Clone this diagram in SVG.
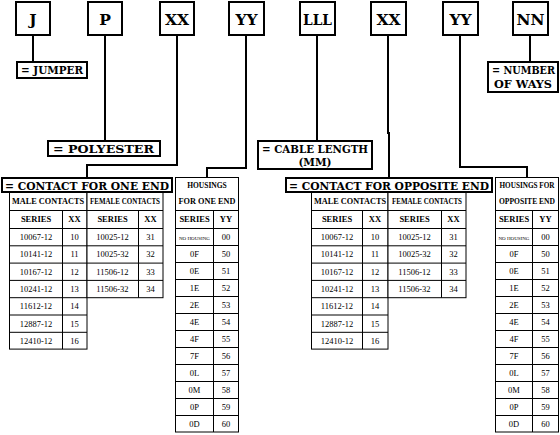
<svg xmlns="http://www.w3.org/2000/svg" width="560" height="435" viewBox="0 0 560 435">
<style>
.box{fill:#fff;stroke:#000;stroke-width:2}
.tb{fill:#fff;stroke:#000;stroke-width:1}
.ln{fill:none;stroke:#000;stroke-width:1}
.conn{fill:none;stroke:#000;stroke-width:2}
text{font-family:"Liberation Serif","DejaVu Serif",serif;fill:#000}
.code{font-family:"DejaVu Serif","Liberation Serif",serif;font-size:15.5px;font-weight:bold;text-anchor:middle}
.lab{font-family:"DejaVu Serif","Liberation Serif",serif;font-size:10.5px;font-weight:bold}
.big{font-family:"DejaVu Serif","Liberation Serif",serif;font-size:11.5px;font-weight:bold}
.hd{font-size:7.5px;font-weight:bold;text-anchor:middle}
.c{font-size:8.5px;text-anchor:middle}
.cb{font-size:8.5px;font-weight:bold;text-anchor:middle}
.tiny{font-size:5px;text-anchor:middle}
</style>
<rect width="560" height="435" fill="#fff"/>
<g id="connectors">
<path class="conn" d="M33 36V62"/>
<path class="conn" d="M105 36V141"/>
<path class="conn" d="M177 36V165H87V178"/>
<path class="conn" d="M246 36V168H207V177"/>
<path class="conn" d="M317 36V141"/>
<path class="conn" d="M388 36V133H389V178"/>
<path class="conn" d="M460 36V167H527V177"/>
<path class="conn" d="M530 36V62"/>
</g>
<g id="code-J"><rect class="box" x="16" y="2" width="34" height="33"/><text class="code" x="33" y="24.5">J</text></g>
<g id="code-P"><rect class="box" x="88" y="2" width="34" height="33"/><text class="code" x="105" y="24.5">P</text></g>
<g id="code-XX1"><rect class="box" x="160" y="2" width="34" height="33"/><text class="code" x="177" y="24.5">XX</text></g>
<g id="code-YY1"><rect class="box" x="229" y="2" width="35" height="33"/><text class="code" x="246.5" y="24.5">YY</text></g>
<g id="code-LLL"><rect class="box" x="300" y="2" width="35" height="33"/><text class="code" x="317.5" y="24.5" textLength="29" lengthAdjust="spacingAndGlyphs">LLL</text></g>
<g id="code-XX2"><rect class="box" x="371" y="2" width="35" height="33"/><text class="code" x="388.5" y="24.5">XX</text></g>
<g id="code-YY2"><rect class="box" x="443" y="2" width="35" height="33"/><text class="code" x="460.5" y="24.5">YY</text></g>
<g id="code-NN"><rect class="box" x="513" y="2" width="35" height="33"/><text class="code" x="530.5" y="24.5" textLength="28" lengthAdjust="spacingAndGlyphs">NN</text></g>

<g id="label-jumper"><rect class="box" x="17" y="62" width="70" height="16"/><text class="lab" x="21" y="74" textLength="62" lengthAdjust="spacingAndGlyphs">= JUMPER</text></g>
<g id="label-polyester"><rect class="box" x="48" y="141" width="112" height="15"/><text class="lab" x="53" y="153" textLength="101" lengthAdjust="spacingAndGlyphs">= POLYESTER</text></g>
<g id="label-cable"><rect class="box" x="258" y="141" width="114" height="28"/><text class="lab" x="262" y="153" textLength="106" lengthAdjust="spacingAndGlyphs">= CABLE LENGTH</text><text class="lab" x="315" y="166" text-anchor="middle">(MM)</text></g>
<g id="label-ways"><rect class="box" x="488" y="62" width="70" height="30"/><text class="lab" x="492" y="74" textLength="63" lengthAdjust="spacingAndGlyphs">= NUMBER</text><text class="lab" x="523" y="88" text-anchor="middle" textLength="58" lengthAdjust="spacingAndGlyphs">OF WAYS</text></g>
<g id="label-contact-one"><rect class="box" x="2" y="178" width="170" height="14" stroke-width="2.5"/><text class="big" x="5" y="189.5" textLength="164" lengthAdjust="spacingAndGlyphs">= CONTACT FOR ONE END</text></g>
<g id="label-contact-opp"><rect class="box" x="286" y="178" width="206" height="14" stroke-width="2.5"/><text class="big" x="289" y="189.5" textLength="200" lengthAdjust="spacingAndGlyphs">= CONTACT FOR OPPOSITE END</text></g>

<g id="table-male-one">
<rect class="tb" x="9.5" y="192.5" width="77.5" height="156.6"/>
<path class="ln" d="M9.5 210.5H87M9.5 228.5H87M9.5 245.8H87M9.5 263.1H87M9.5 280.4H87M9.5 297.7H87M9.5 315H87M9.5 332.3H87M62.5 210.5V349.1"/>
<text class="hd" x="48" y="204" textLength="72" lengthAdjust="spacingAndGlyphs">MALE CONTACTS</text>
<text class="cb" x="36" y="222">SERIES</text><text class="cb" x="74.5" y="222">XX</text>
<text class="c" x="36" y="240">10067-12</text><text class="c" x="74.5" y="240">10</text>
<text class="c" x="36" y="257.3">10141-12</text><text class="c" x="74.5" y="257.3">11</text>
<text class="c" x="36" y="274.6">10167-12</text><text class="c" x="74.5" y="274.6">12</text>
<text class="c" x="36" y="291.9">10241-12</text><text class="c" x="74.5" y="291.9">13</text>
<text class="c" x="36" y="309.2">11612-12</text><text class="c" x="74.5" y="309.2">14</text>
<text class="c" x="36" y="326.5">12887-12</text><text class="c" x="74.5" y="326.5">15</text>
<text class="c" x="36" y="343.8">12410-12</text><text class="c" x="74.5" y="343.8">16</text>
</g>
<g id="table-female-one">
<rect class="tb" x="87" y="192.5" width="76" height="105.2"/>
<path class="ln" d="M87 210.5H163M87 228.5H163M87 245.8H163M87 263.1H163M87 280.4H163M138.5 210.5V297.7"/>
<text class="hd" x="125" y="204" textLength="70" lengthAdjust="spacingAndGlyphs">FEMALE CONTACTS</text>
<text class="cb" x="112.5" y="222">SERIES</text><text class="cb" x="150.5" y="222">XX</text>
<text class="c" x="112.5" y="240">10025-12</text><text class="c" x="150.5" y="240">31</text>
<text class="c" x="112.5" y="257.3">10025-32</text><text class="c" x="150.5" y="257.3">32</text>
<text class="c" x="112.5" y="274.6">11506-12</text><text class="c" x="150.5" y="274.6">33</text>
<text class="c" x="112.5" y="291.9">11506-32</text><text class="c" x="150.5" y="291.9">34</text>
</g>
<g id="table-housing-one">
<rect class="tb" x="175.5" y="177.5" width="63" height="254.5"/>
<path class="ln" d="M175.5 210.5H238.5M175.5 228.5H238.5M175.5 245.5H238.5M175.5 262.5H238.5M175.5 279.5H238.5M175.5 296.5H238.5M175.5 313.5H238.5M175.5 330.5H238.5M175.5 347.5H238.5M175.5 364.5H238.5M175.5 381.5H238.5M175.5 398.5H238.5M175.5 415.5H238.5M213.5 210.5V432"/>
<text class="hd" x="207" y="188">HOUSINGS</text>
<text class="hd" x="207" y="204" textLength="57" lengthAdjust="spacingAndGlyphs">FOR ONE END</text>
<text class="cb" x="194.5" y="222">SERIES</text><text class="cb" x="226" y="222">YY</text>
<text class="tiny" x="194.5" y="239.5">NO HOUSING</text><text class="c" x="226" y="240">00</text>
<text class="c" x="194.5" y="257">0F</text><text class="c" x="226" y="257">50</text>
<text class="c" x="194.5" y="274">0E</text><text class="c" x="226" y="274">51</text>
<text class="c" x="194.5" y="291">1E</text><text class="c" x="226" y="291">52</text>
<text class="c" x="194.5" y="308">2E</text><text class="c" x="226" y="308">53</text>
<text class="c" x="194.5" y="325">4E</text><text class="c" x="226" y="325">54</text>
<text class="c" x="194.5" y="342">4F</text><text class="c" x="226" y="342">55</text>
<text class="c" x="194.5" y="359">7F</text><text class="c" x="226" y="359">56</text>
<text class="c" x="194.5" y="376">0L</text><text class="c" x="226" y="376">57</text>
<text class="c" x="194.5" y="393">0M</text><text class="c" x="226" y="393">58</text>
<text class="c" x="194.5" y="410">0P</text><text class="c" x="226" y="410">59</text>
<text class="c" x="194.5" y="427">0D</text><text class="c" x="226" y="427">60</text>
</g>

<g id="table-male-opp">
<rect class="tb" x="311.5" y="192.5" width="76.5" height="156.6"/>
<path class="ln" d="M311.5 210.5H388M311.5 228.5H388M311.5 245.8H388M311.5 263.1H388M311.5 280.4H388M311.5 297.7H388M311.5 315H388M311.5 332.3H388M362.5 210.5V349.1"/>
<text class="hd" x="350" y="204" textLength="72" lengthAdjust="spacingAndGlyphs">MALE CONTACTS</text>
<text class="cb" x="337" y="222">SERIES</text><text class="cb" x="375" y="222">XX</text>
<text class="c" x="337" y="240">10067-12</text><text class="c" x="375" y="240">10</text>
<text class="c" x="337" y="257.3">10141-12</text><text class="c" x="375" y="257.3">11</text>
<text class="c" x="337" y="274.6">10167-12</text><text class="c" x="375" y="274.6">12</text>
<text class="c" x="337" y="291.9">10241-12</text><text class="c" x="375" y="291.9">13</text>
<text class="c" x="337" y="309.2">11612-12</text><text class="c" x="375" y="309.2">14</text>
<text class="c" x="337" y="326.5">12887-12</text><text class="c" x="375" y="326.5">15</text>
<text class="c" x="337" y="343.8">12410-12</text><text class="c" x="375" y="343.8">16</text>
</g>
<g id="table-female-opp">
<rect class="tb" x="388" y="192.5" width="78" height="105.2"/>
<path class="ln" d="M388 210.5H466M388 228.5H466M388 245.8H466M388 263.1H466M388 280.4H466M441.5 210.5V297.7"/>
<text class="hd" x="427" y="204" textLength="70" lengthAdjust="spacingAndGlyphs">FEMALE CONTACTS</text>
<text class="cb" x="414.5" y="222">SERIES</text><text class="cb" x="453.5" y="222">XX</text>
<text class="c" x="414.5" y="240">10025-12</text><text class="c" x="453.5" y="240">31</text>
<text class="c" x="414.5" y="257.3">10025-32</text><text class="c" x="453.5" y="257.3">32</text>
<text class="c" x="414.5" y="274.6">11506-12</text><text class="c" x="453.5" y="274.6">33</text>
<text class="c" x="414.5" y="291.9">11506-32</text><text class="c" x="453.5" y="291.9">34</text>
</g>
<g id="table-housing-opp">
<rect class="tb" x="495.5" y="177.5" width="63" height="254.5"/>
<path class="ln" d="M495.5 210.5H558.5M495.5 228.5H558.5M495.5 245.5H558.5M495.5 262.5H558.5M495.5 279.5H558.5M495.5 296.5H558.5M495.5 313.5H558.5M495.5 330.5H558.5M495.5 347.5H558.5M495.5 364.5H558.5M495.5 381.5H558.5M495.5 398.5H558.5M495.5 415.5H558.5M532.5 210.5V432"/>
<text class="hd" x="527" y="188" textLength="55" lengthAdjust="spacingAndGlyphs">HOUSINGS FOR</text>
<text class="hd" x="527" y="204" textLength="56" lengthAdjust="spacingAndGlyphs">OPPOSITE END</text>
<text class="cb" x="514" y="222">SERIES</text><text class="cb" x="545.5" y="222">YY</text>
<text class="tiny" x="514" y="239.5">NO HOUSING</text><text class="c" x="545.5" y="240">00</text>
<text class="c" x="514" y="257">0F</text><text class="c" x="545.5" y="257">50</text>
<text class="c" x="514" y="274">0E</text><text class="c" x="545.5" y="274">51</text>
<text class="c" x="514" y="291">1E</text><text class="c" x="545.5" y="291">52</text>
<text class="c" x="514" y="308">2E</text><text class="c" x="545.5" y="308">53</text>
<text class="c" x="514" y="325">4E</text><text class="c" x="545.5" y="325">54</text>
<text class="c" x="514" y="342">4F</text><text class="c" x="545.5" y="342">55</text>
<text class="c" x="514" y="359">7F</text><text class="c" x="545.5" y="359">56</text>
<text class="c" x="514" y="376">0L</text><text class="c" x="545.5" y="376">57</text>
<text class="c" x="514" y="393">0M</text><text class="c" x="545.5" y="393">58</text>
<text class="c" x="514" y="410">0P</text><text class="c" x="545.5" y="410">59</text>
<text class="c" x="514" y="427">0D</text><text class="c" x="545.5" y="427">60</text>
</g>
</svg>
